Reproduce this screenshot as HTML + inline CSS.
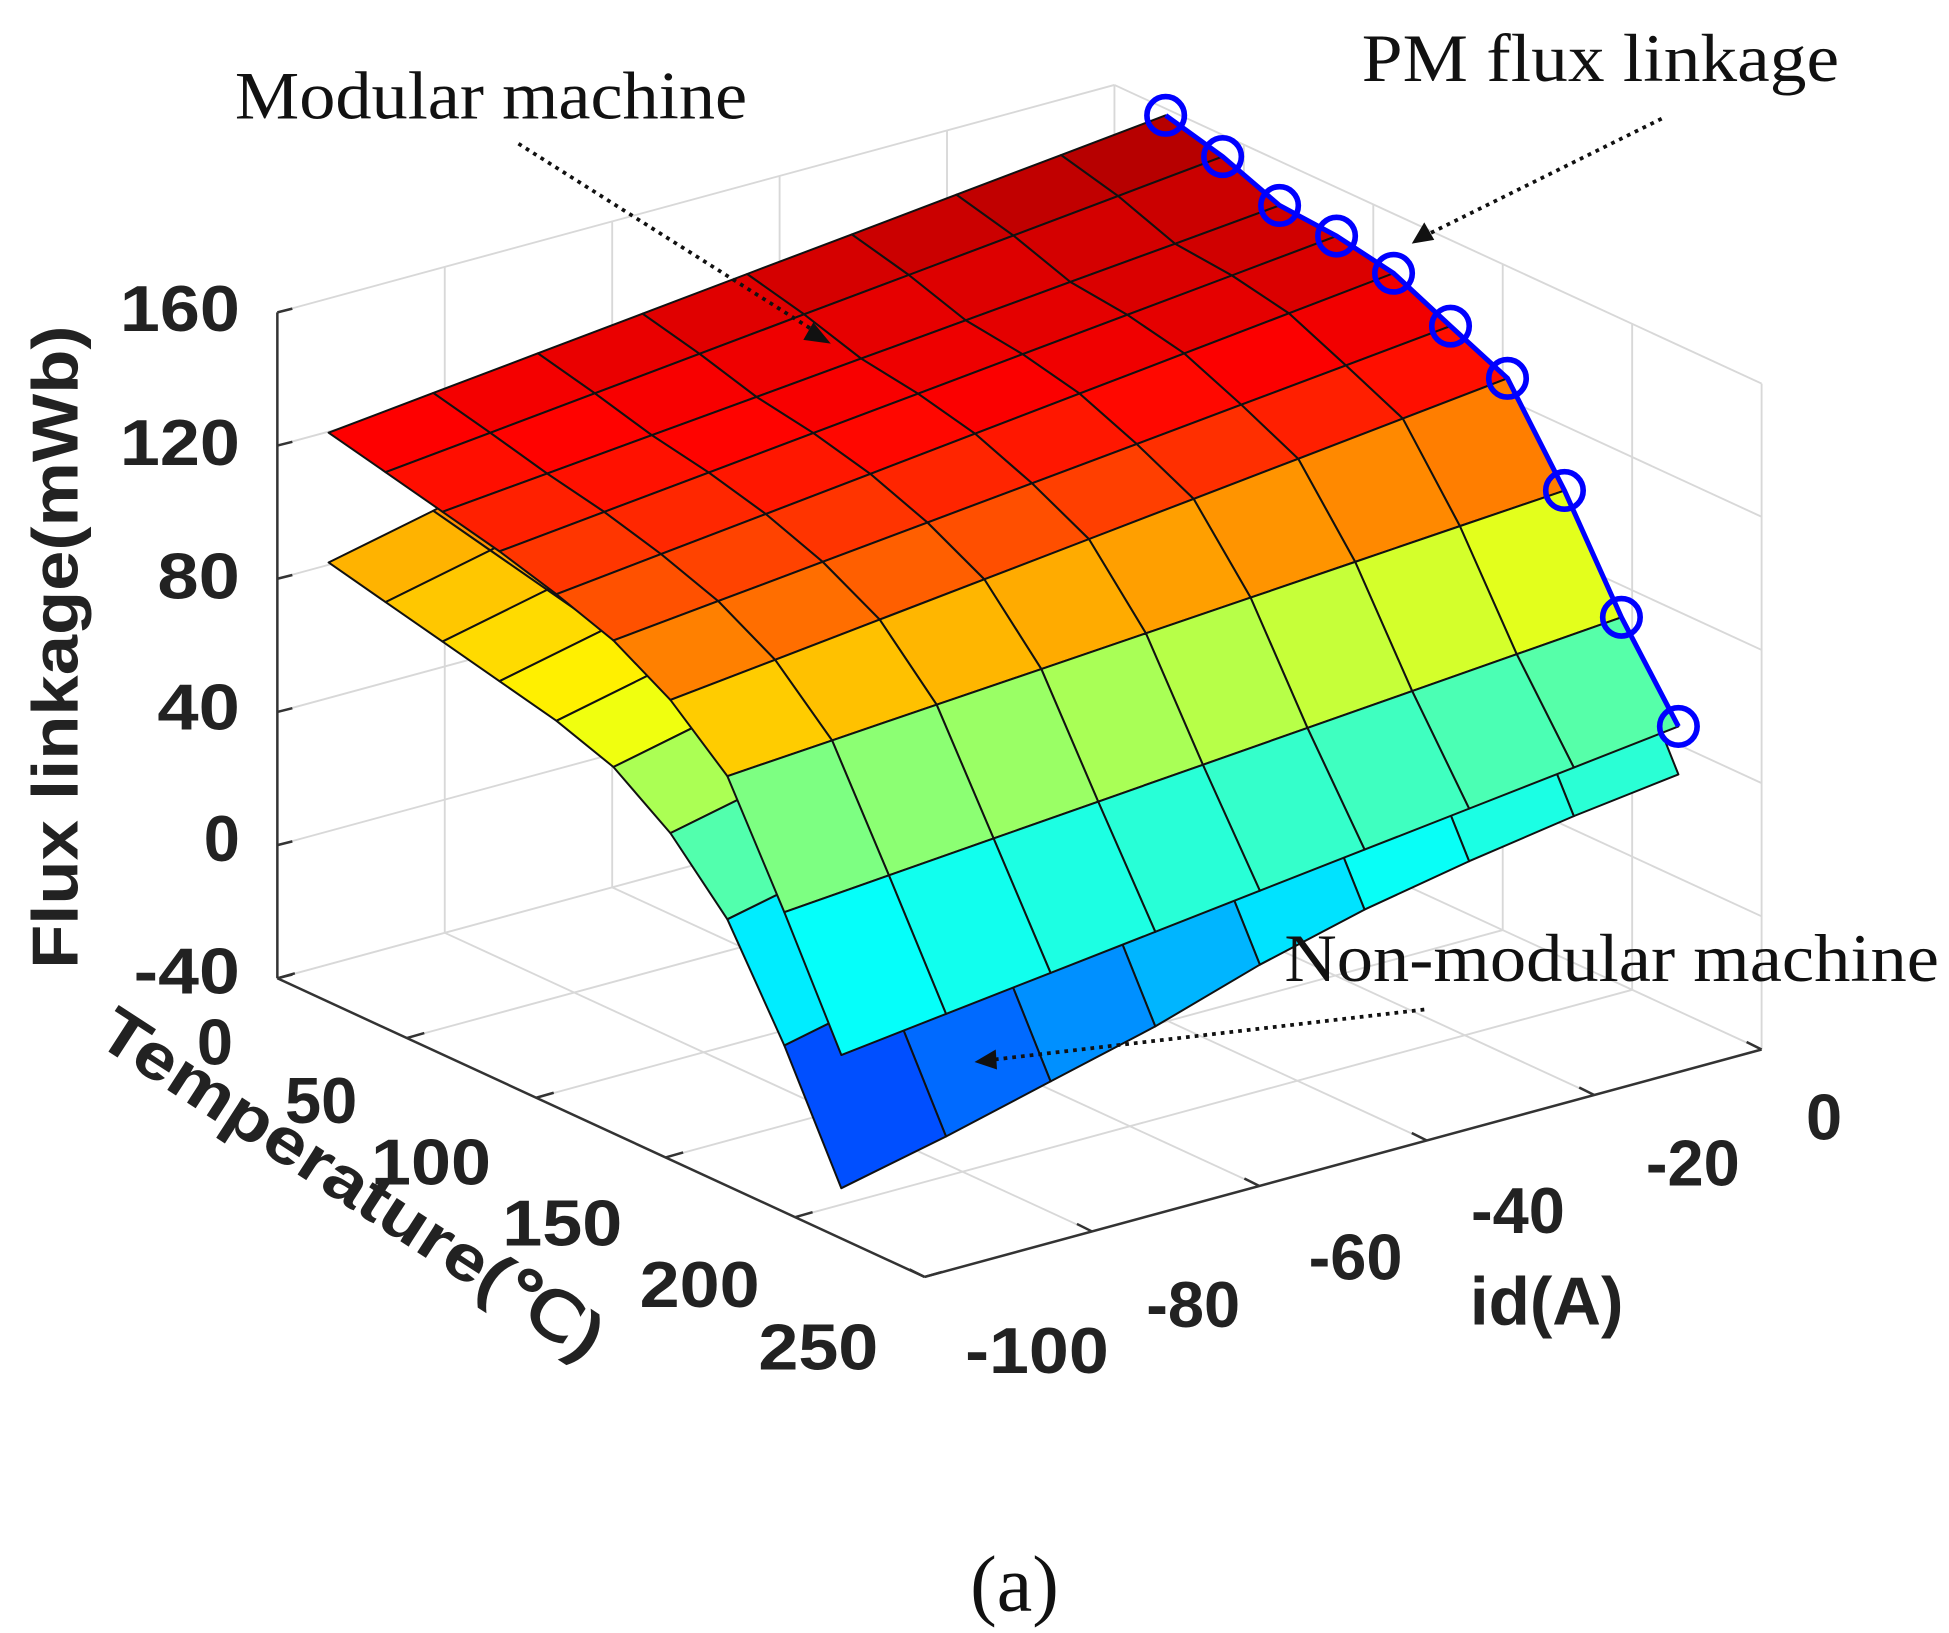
<!DOCTYPE html>
<html><head><meta charset="utf-8"><style>
html,body{margin:0;padding:0;background:#fff;}
svg{display:block;}
.t{font-family:"Liberation Sans",Arial,sans-serif;font-weight:bold;fill:#222;font-size:52px;}
.s{font-family:"Liberation Serif","Times New Roman",serif;fill:#111;font-size:54px;}
</style></head><body>
<svg id="c" width="1949" height="1633" viewBox="0 0 1560 1307" preserveAspectRatio="none" xmlns="http://www.w3.org/2000/svg">
<rect width="1560" height="1307" fill="#fff"/>
<g id="grid" stroke="#d8d8d8" stroke-width="1.5" fill="none"></g>
<g id="axes" stroke="#333" stroke-width="2" fill="none">
<line x1="222" y1="250" x2="222" y2="783"/>
<line x1="222" y1="783" x2="740" y2="1022"/>
<line x1="740" y1="1022" x2="1410" y2="840"/>
</g>
<g id="surf" stroke="#111" stroke-width="1.6" stroke-linejoin="round"></g>
<g id="pm"></g>
<text class="t" x="192" y="265" text-anchor="end" textLength="96" lengthAdjust="spacingAndGlyphs">160</text>
<text class="t" x="192" y="372" text-anchor="end" textLength="96" lengthAdjust="spacingAndGlyphs">120</text>
<text class="t" x="192" y="479" text-anchor="end" textLength="66" lengthAdjust="spacingAndGlyphs">80</text>
<text class="t" x="192" y="584" text-anchor="end" textLength="66" lengthAdjust="spacingAndGlyphs">40</text>
<text class="t" x="192" y="689" text-anchor="end">0</text>
<text class="t" x="192" y="795" text-anchor="end" textLength="85" lengthAdjust="spacingAndGlyphs">-40</text>
<text class="t" x="172" y="852" text-anchor="middle">0</text>
<text class="t" x="257" y="899" text-anchor="middle">50</text>
<text class="t" x="345" y="948" text-anchor="middle" textLength="96" lengthAdjust="spacingAndGlyphs">100</text>
<text class="t" x="450" y="997" text-anchor="middle" textLength="96" lengthAdjust="spacingAndGlyphs">150</text>
<text class="t" x="560" y="1046" text-anchor="middle" textLength="96" lengthAdjust="spacingAndGlyphs">200</text>
<text class="t" x="655" y="1096" text-anchor="middle" textLength="96" lengthAdjust="spacingAndGlyphs">250</text>
<text class="t" x="830" y="1099" text-anchor="middle" textLength="115" lengthAdjust="spacingAndGlyphs">-100</text>
<text class="t" x="955" y="1062" text-anchor="middle">-80</text>
<text class="t" x="1085" y="1024" text-anchor="middle">-60</text>
<text class="t" x="1215" y="987" text-anchor="middle">-40</text>
<text class="t" x="1355" y="949" text-anchor="middle">-20</text>
<text class="t" x="1460" y="912" text-anchor="middle">0</text>
<text class="t" transform="translate(62,518) rotate(-90)" text-anchor="middle" textLength="515" lengthAdjust="spacingAndGlyphs">Flux linkage(mWb)</text>
<text class="t" transform="translate(272,962) rotate(33)" text-anchor="middle" textLength="470" lengthAdjust="spacingAndGlyphs">Temperature(℃)</text>
<text class="t" x="1238" y="1060" text-anchor="middle" style="font-size:54px">id(A)</text>
<text class="s" x="188" y="95" textLength="410" lengthAdjust="spacingAndGlyphs">Modular machine</text>
<text class="s" x="1090" y="65" textLength="382" lengthAdjust="spacingAndGlyphs">PM flux linkage</text>
<text class="s" x="1028" y="785" textLength="524" lengthAdjust="spacingAndGlyphs">Non-modular machine</text>
<text class="s" x="812" y="1289" text-anchor="middle" style="font-size:64px">(a)</text>
<g stroke="#111" stroke-width="3" stroke-dasharray="3,4" fill="none">
<line x1="415" y1="115" x2="652" y2="265"/>
<line x1="1330" y1="95" x2="1142" y2="188"/>
<line x1="1140" y1="808" x2="796" y2="848"/>
</g>
<g fill="#111">
<polygon points="665,275 643,272 651,258"/>
<polygon points="1130,195 1140,178 1148,192"/>
<polygon points="780,850 797,840 798,856"/>
</g>
</svg>
<script>
(function(){
var NS="http://www.w3.org/2000/svg";
function el(p,n,a){var e=document.createElementNS(NS,n);for(var k in a)e.setAttribute(k,a[k]);p.appendChild(e);return e;}
var g=document.getElementById('grid');
var zs=2.665;
function zy(z){return 783-(z+40)*zs;}
for(var z=-40;z<=160;z+=40){el(g,'line',{x1:222,y1:zy(z),x2:892,y2:zy(z)-182});}
for(var k=1;k<=5;k++){var x=222+670*k/5,yb=783-182*k/5;el(g,'line',{x1:x,y1:yb,x2:x,y2:yb-533});}
for(var z=-40;z<=160;z+=40){el(g,'line',{x1:892,y1:zy(z)-182,x2:1410,y2:zy(z)-182+239});}
for(var k=1;k<=5;k++){var x=892+518*k/5,yb=601+239*k/5;el(g,'line',{x1:x,y1:yb,x2:x,y2:yb-533});}
for(var k=1;k<=5;k++){var x=222+518*k/5,y=783+239*k/5;el(g,'line',{x1:x,y1:y,x2:x+670,y2:y-182});}
for(var k=1;k<=4;k++){var x=222+670*k/5,y=783-182*k/5;el(g,'line',{x1:x,y1:y,x2:x+518,y2:y+239});}
var ax=document.getElementById('axes');
for(var k=0;k<=5;k++){var x=222+518*k/5,y=783+239*k/5;el(ax,'line',{x1:x,y1:y,x2:x+14,y2:y-4});}
for(var k=0;k<=5;k++){var x=740+670*k/5,y=1022-182*k/5;el(ax,'line',{x1:x,y1:y,x2:x-12,y2:y-6});}
for(var z=-40;z<=160;z+=40){el(ax,'line',{x1:222,y1:zy(z),x2:234,y2:zy(z)-3});}

var A=[263,802],dT=[45.6,21.0],dI=[83.75,-22.75];
function P(i,j,z){return [A[0]+i*dT[0]+j*dI[0], A[1]+i*dT[1]+j*dI[1]-(z+40)*zs];}
var L=[131,127,123,119,114,108,98,83,50,15];
var R=[158,153.5,146.7,145.4,142.1,134.1,126.3,100.5,70.3,45.4];
function zM(i,j){return L[i]+(R[i]-L[i])*j/8;}
var NL=[92,88,84,80,76,70,58,40,10,-25];
var F=[0,7,15,23,33,41,47,52,56];
function zN(i,j){return NL[i]+F[j];}
function cl(v){return Math.max(0,Math.min(1,v));}
var KZ=[-40,-20,15,45,70,100,125,145,165], KT=[0.15,0.22,0.38,0.47,0.61,0.76,0.87,0.93,0.99];
function tz(z){if(z<=KZ[0])return KT[0];for(var k=1;k<KZ.length;k++){if(z<=KZ[k]){var f=(z-KZ[k-1])/(KZ[k]-KZ[k-1]);return KT[k-1]+f*(KT[k]-KT[k-1]);}}return KT[KT.length-1];}
function jet(z){var t=tz(z);
var r=cl(1.5-Math.abs(4*t-3)),gg=cl(1.5-Math.abs(4*t-2)),b=cl(1.5-Math.abs(4*t-1));
return 'rgb('+Math.round(r*255)+','+Math.round(gg*255)+','+Math.round(b*255)+')';}
var s=document.getElementById('surf');
function draw(f){
 var faces=[];
 for(var i=0;i<9;i++)for(var j=0;j<8;j++)faces.push([i,j]);
 faces.sort(function(a,b){return (a[0]-a[1])-(b[0]-b[1]);});
 faces.forEach(function(q){var i=q[0],j=q[1];
  var c=[[i,j],[i+1,j],[i+1,j+1],[i,j+1]];
  var zmin=1e9,pts=[];
  c.forEach(function(v){var z=f(v[0],v[1]);if(z<zmin)zmin=z;var p=P(v[0],v[1],z);pts.push(p[0].toFixed(1)+','+p[1].toFixed(1));});
  el(s,'polygon',{points:pts.join(' '),fill:jet(zmin)});
 });
}
draw(zN);
draw(zM);
var pm=document.getElementById('pm');
var pts=[];
for(var i=0;i<10;i++){var p=P(i,8,R[i]);pts.push(p);}
el(pm,'polyline',{points:pts.map(function(p){return p[0]+','+p[1];}).join(' '),fill:'none',stroke:'#0000ff','stroke-width':4});
pts.forEach(function(p){el(pm,'circle',{cx:p[0],cy:p[1],r:15,fill:'none',stroke:'#0000ff','stroke-width':4.5});});
})();
</script>
</body></html>
